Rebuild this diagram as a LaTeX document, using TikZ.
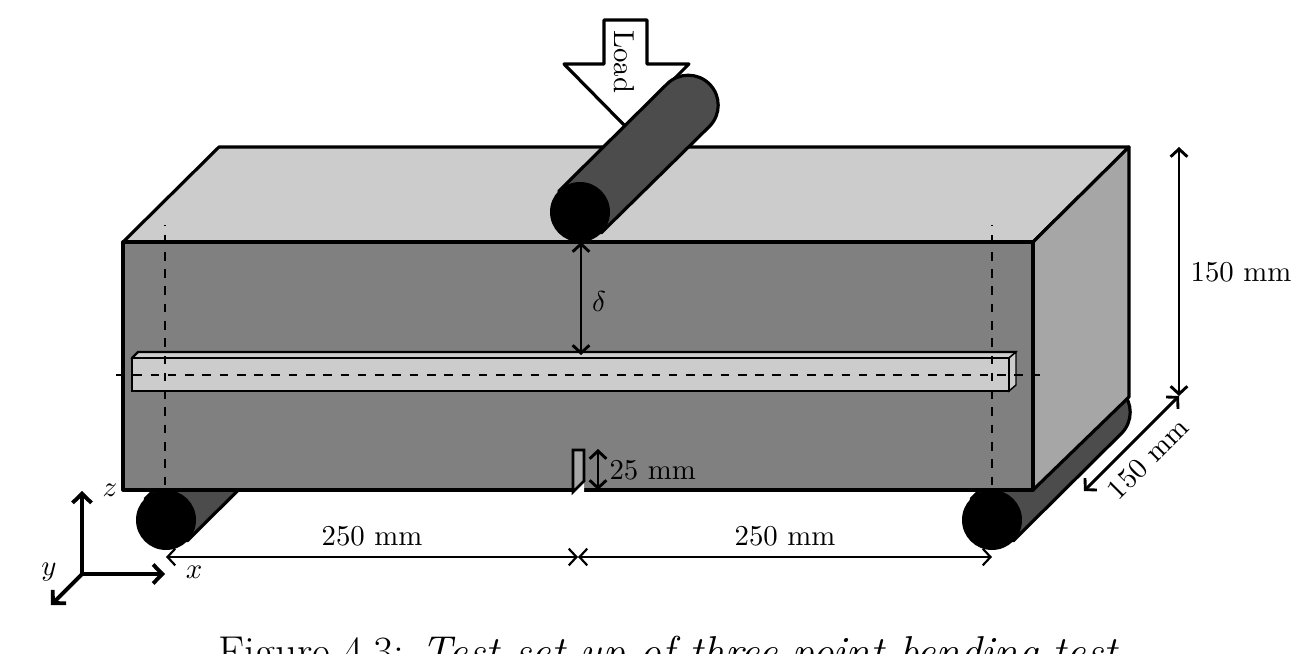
\documentclass[tikz,border=0pt]{standalone}
\usepackage{amsmath}
\usepackage{xcolor}
\usepackage{tikz}
\usetikzlibrary{arrows.meta}
\begin{document}
\begin{tikzpicture}
                        [x=0.0122cm,y=-0.0122cm,
                        edge/.style = {draw=black,line width=1.1pt,line join=round},
                        roller/.style = {edge,fill=black!70},
                        dim/.style = {line width=1pt,{Straight Barb[length=2.7pt,width=5.8pt]}-{Straight Barb[length=2.7pt,width=5.8pt]}},
                        span/.style = {dim,line width=0.75pt},
                        axis/.style = {line width=1.35pt,-{Straight Barb[length=3.2pt,width=6.6pt]}},
                        guide/.style = {line width=0.85pt,dashed},
                        bar/.style = {line width=0.5pt,fill=black!20},
                        label/.style = {inner sep=0pt}]
                        \useasboundingbox (0,0) rectangle (1311,654);
                        \clip (0,0) rectangle (1311,654);
                        % Support rollers
                        \draw[roller] (145,499) -- (253,391) arc (225:405:30) -- (187,541) -- cycle;
                        \draw[roller] (971,499) -- (1079,391) arc (225:405:30) -- (1013,541) -- cycle;
                        % Load arrow
                        \draw[edge,fill=white] (604,20) -- (647,20) -- (647,64) -- (689,64) -- (626,127) -- (564,64) -- (604,64) -- cycle;
                        \node[label,rotate=-90] (load) at (624,62) {Load};
                        % Beam
                        \draw[edge,fill=black!20] (123,242) -- (219,147) -- (1129,147) -- (1033,242) -- cycle;
                        \draw[edge,fill=black!35] (1033,242) -- (1129,147) -- (1129,397) -- (1033,490) -- cycle;
                        \draw[edge,fill=black!50] (123,242) rectangle (1033,490);
                        % Top roller
                        \draw[roller] (559,191) -- (667,84) arc (225:405:30) -- (601,233) -- cycle;
                        \fill[black] (580,212) circle (30);
                        % Reinforcement bar
                        \draw[bar] (132,358) -- (138,352) -- (1016,352) -- (1009,358) -- cycle;
                        \draw[bar] (1009,358) -- (1016,352) -- (1016,385) -- (1009,391) -- cycle;
                        \draw[bar] (132,358) rectangle (1009,391);
                        \draw[line width=0.8pt] (132,358) -- (132,391);
                        \draw[line width=0.8pt] (132,358) -- (138,352) -- (1016,352);
                        % Front rollers
                        \fill[black] (166,520) circle (30);
                        \fill[black] (992,520) circle (30);
                        % Guide lines
                        \draw[guide,line width=1pt] (116,375) -- (1043,375);
                        \draw[guide,dash phase=2.65pt] (165,225) -- (165,490);
                        \draw[guide,dash phase=2.65pt] (992,225) -- (992,490);
                        % Notch
                        \fill[white] (573,493) -- (584,481) -- (584,494) -- cycle;
                        \draw[line width=0.9pt,fill=black!35] (573,492) -- (573,450) -- (584,450) -- (584,481) -- cycle;
                        % Dimensions
                        \coordinate (delta top) at (581,242);
                        \coordinate (delta low) at (581,355);
                        \draw[dim] (delta top) -- (delta low);
                        \node[label] (delta) at (599,301) {$\delta$};
                        \coordinate (notch top) at (598,449);
                        \coordinate (notch low) at (598,490);
                        \draw[dim] (notch top) -- (notch low);
                        \node[label,anchor=west] (notch) at (609,470) {25 mm};
                        \coordinate (span left) at (166,557);
                        \coordinate (span mid) at (578,557);
                        \coordinate (span right) at (992,557);
                        \draw[span] (span left) -- (span mid);
                        \draw[span] (span mid) -- (span right);
                        \node[label] (span a) at (372,536) {250 mm};
                        \node[label] (span b) at (785,536) {250 mm};
                        \coordinate (height top) at (1179,147);
                        \coordinate (height low) at (1179,396);
                        \draw[dim] (height top) -- (height low);
                        \node[label] (height) at (1241,272) {150 mm};
                        \coordinate (depth top) at (1179,396);
                        \coordinate (depth low) at (1084,491);
                        \draw[dim] (depth top) -- (depth low);
                        \node[label,rotate=45] (depth) at (1148,459) {150 mm};
                        % Axes
                        \coordinate (origin) at (82,574);
                        \coordinate (xend) at (165,574);
                        \coordinate (yend) at (51,605);
                        \coordinate (zend) at (82,491);
                        \draw[axis] (origin) -- (xend);
                        \draw[axis] (origin) -- (yend);
                        \draw[axis] (origin) -- (zend);
                        \node[label] (xlab) at (194,572) {$x$};
                        \node[label] (ylab) at (49,572) {$y$};
                        \node[label] (zlab) at (110,490) {$z$};
                        % Caption
                        \node[label,anchor=base west,font=\fontsize{15}{18}\selectfont] (caption) at (218,666) {Figure 4.3: \textit{Test set-up of three-point bending test.}};
                    \end{tikzpicture}
\end{document}
